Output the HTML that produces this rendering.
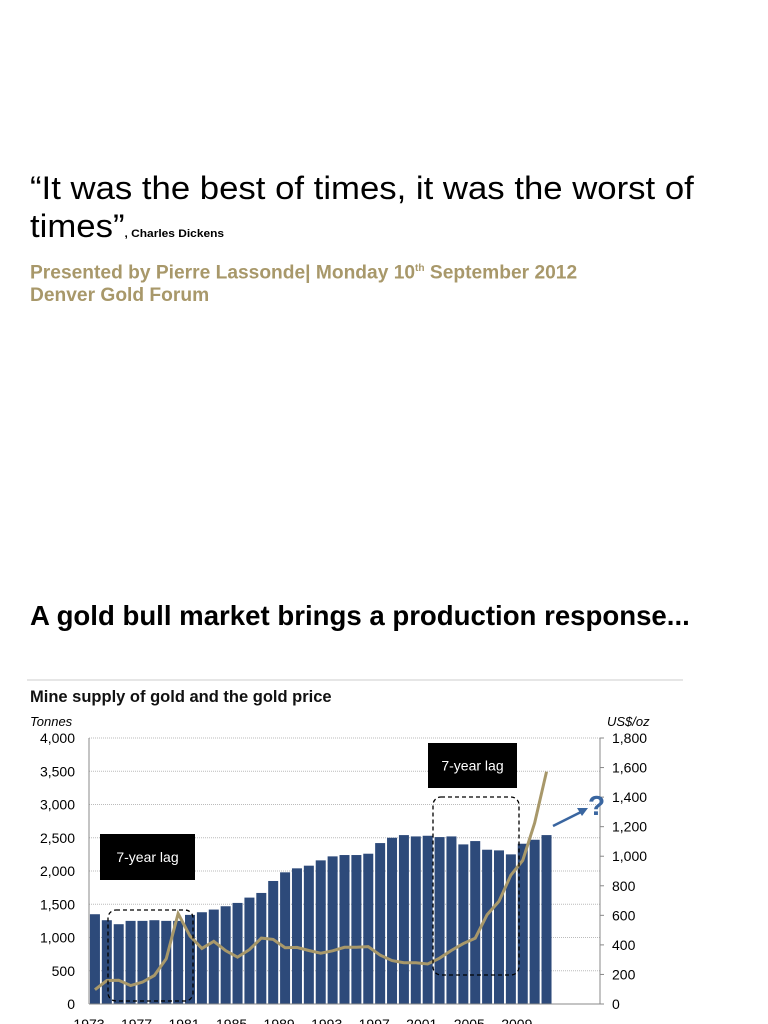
<!DOCTYPE html>
<html><head><meta charset="utf-8"><style>
body{margin:0;width:768px;height:1024px;background:#fff;font-family:"Liberation Sans",sans-serif;position:relative;overflow:hidden}
.a{position:absolute;white-space:nowrap}
</style></head><body>
<div class="a" style="left:30px;top:169px;font-size:32px;line-height:38px;color:#000;transform:scaleX(1.085);transform-origin:left">“It was the best of times, it was the worst of<br>times”<span style="font-size:11px;font-weight:bold">, Charles Dickens</span></div>
<div class="a" style="left:30px;top:257px;font-size:19px;line-height:23px;font-weight:bold;color:#a8986a;transform:scaleX(1.01);transform-origin:left">Presented by Pierre Lassonde| Monday 10<sup style="font-size:10px">th</sup> September 2012<br>Denver Gold Forum</div>
<div class="a" style="left:30px;top:600px;font-size:27.6px;font-weight:bold;color:#000">A gold bull market brings a production response...</div>
<svg class="a" style="left:0;top:0" width="768" height="1024">
<line x1="27" y1="680" x2="683" y2="680" stroke="#ccc"/>
<text x="30" y="702" font-size="16.5" font-weight="bold" fill="#111">Mine supply of gold and the gold price</text>
<text x="30" y="726" font-size="13" font-style="italic">Tonnes</text>
<text x="607" y="726" font-size="13" font-style="italic">US$/oz</text>
<g id="g"></g>
</svg>
<script>
const years=[];for(let y=1973;y<=2011;y++)years.push(y);
const tonnes=[1350,1260,1200,1250,1250,1260,1250,1250,1340,1380,1420,1470,1520,1600,1670,1850,1980,2040,2080,2160,2220,2240,2240,2260,2420,2500,2540,2520,2530,2510,2520,2400,2450,2320,2310,2250,2410,2470,2540];
const price=[97,159,161,125,148,193,306,612,460,376,424,361,317,368,446,437,381,383,362,344,360,384,384,388,331,294,279,279,271,310,363,409,445,604,695,872,972,1225,1572];
const leftTicks=[0,500,1000,1500,2000,2500,3000,3500,4000];
const rightTicks=[0,200,400,600,800,1000,1200,1400,1600,1800];
const xLabels=[1973,1977,1981,1985,1989,1993,1997,2001,2005,2009];
const X0=89,X1=600,Y0=1004,Y1=738,slot=(X1-X0)/43;
const xc=y=>X0+(y-1973+0.5)*slot;
const yl=v=>Y0-(v/4000)*(Y0-Y1);
const yr=v=>Y0-(v/1800)*(Y0-Y1);
const g=document.getElementById('g');const NS='http://www.w3.org/2000/svg';
function mk(t,a){const e=document.createElementNS(NS,t);for(const k in a)e.setAttribute(k,a[k]);g.appendChild(e);return e;}
leftTicks.forEach(v=>{if(v>0){const l=mk('line',{x1:X0,x2:X1,y1:yl(v),y2:yl(v),stroke:'#bbb','stroke-dasharray':'1,1'});}
const t=mk('text',{x:75,y:yl(v)+5,'font-size':14,'text-anchor':'end'});t.textContent=v.toLocaleString('en-US');});
rightTicks.forEach(v=>{const t=mk('text',{x:612,y:yr(v)+5,'font-size':14});t.textContent=v.toLocaleString('en-US');
mk('line',{x1:X1,x2:X1+4,y1:yr(v),y2:yr(v),stroke:'#888'});});
years.forEach((y,i)=>{const b=mk('rect',{x:xc(y)-5,y:yl(tonnes[i]),width:10,height:Y0-yl(tonnes[i]),fill:'#2d4a7a'});});
mk('line',{x1:X0,x2:X0,y1:Y1,y2:Y0,stroke:'#888'});mk('line',{x1:X1,x2:X1,y1:Y1,y2:Y0,stroke:'#888'});mk('line',{x1:X0,x2:X1,y1:Y0,y2:Y0,stroke:'#888'});
xLabels.forEach(y=>{const t=mk('text',{x:X0+(y-1973)*slot,y:1029,'font-size':14,'text-anchor':'middle'});t.textContent=y;});
const pl=mk('polyline',{points:years.map((y,i)=>xc(y)+','+yr(price[i])).join(' '),fill:'none',stroke:'#a8986a','stroke-width':3});

[[108,910,193,1001],[433,797,519,975]].forEach(r=>{const e=mk('rect',{x:r[0],y:r[1],width:r[2]-r[0],height:r[3]-r[1],rx:8,fill:'none',stroke:'#000','stroke-width':1.3,'stroke-dasharray':'4,3'});});
[[100,834,195,880],[428,743,517,788]].forEach(r=>{const e=mk('rect',{x:r[0],y:r[1],width:r[2]-r[0],height:r[3]-r[1],fill:'#000'});
const t=mk('text',{x:(r[0]+r[2])/2,y:(r[1]+r[3])/2+5,'font-size':14,fill:'#fff','text-anchor':'middle'});t.textContent='7-year lag';});
const ar=mk('line',{x1:553,y1:826,x2:581,y2:812,stroke:'#3a66a0','stroke-width':2.5});
mk('polygon',{points:'588,808 577,808 582,816',fill:'#3a66a0'});
const q=mk('text',{x:588,y:815,'font-size':28,'font-weight':'bold',fill:'#3a66a0'});q.textContent='?';
</script>
</body></html>
